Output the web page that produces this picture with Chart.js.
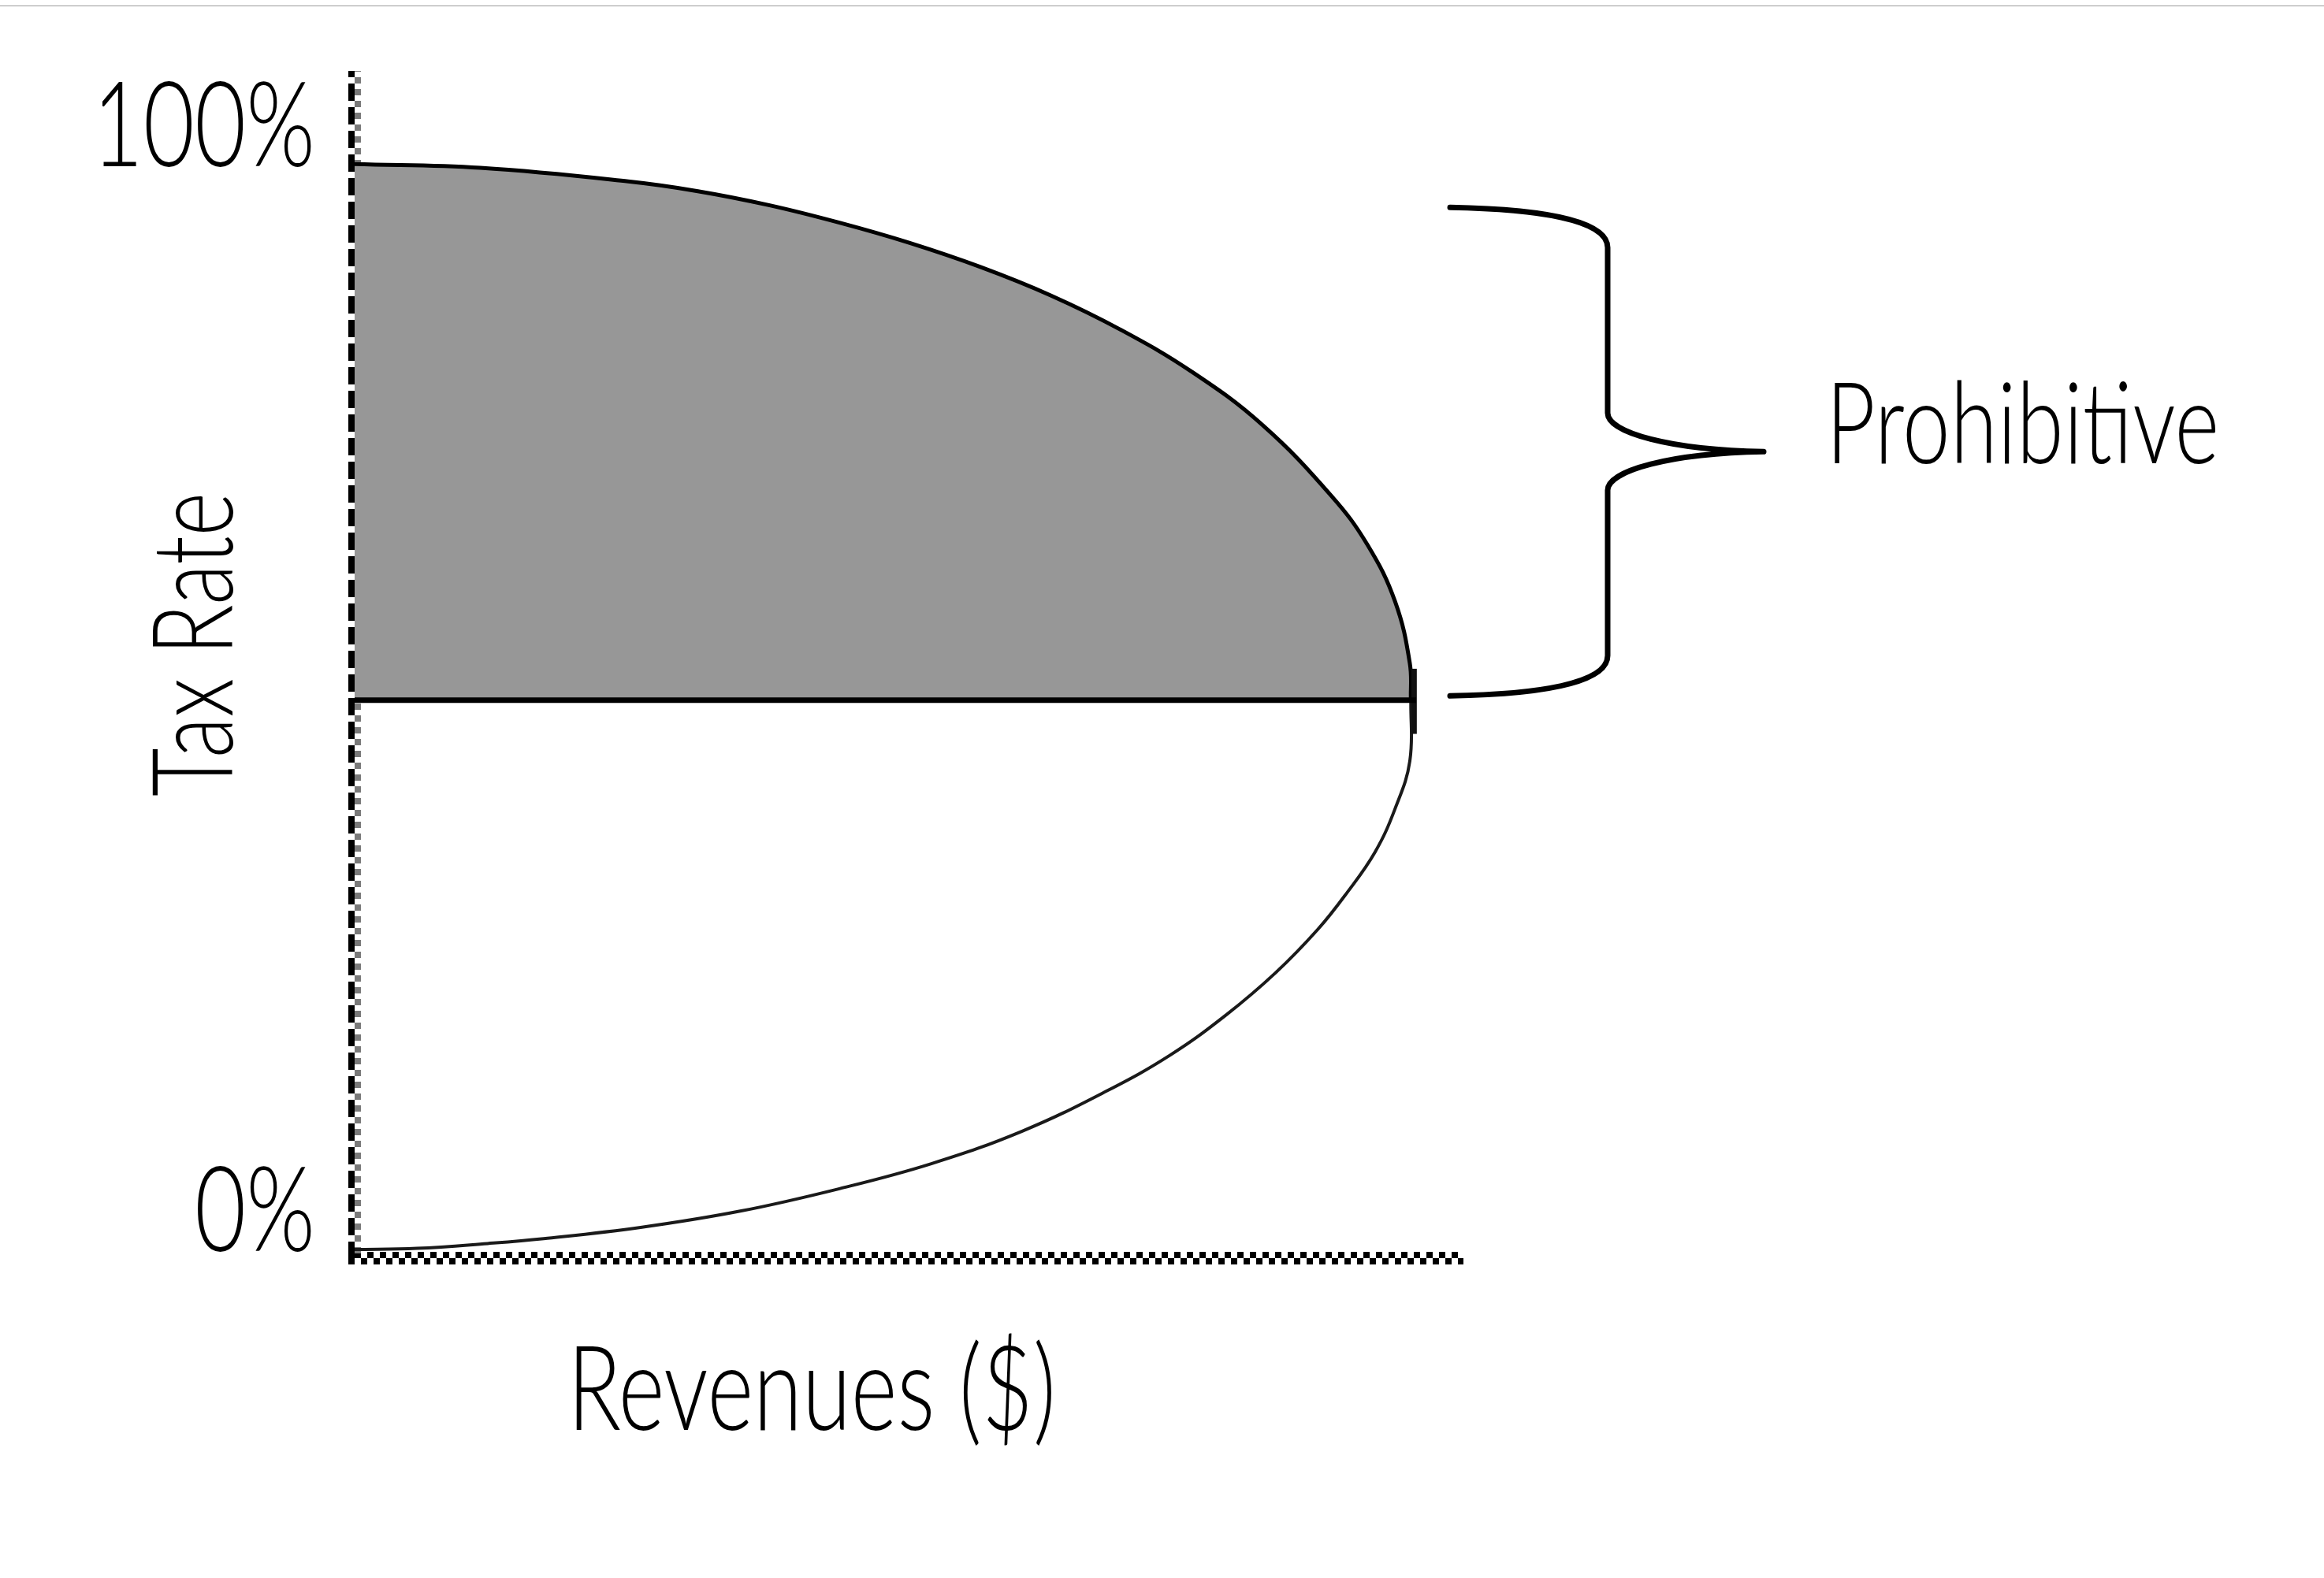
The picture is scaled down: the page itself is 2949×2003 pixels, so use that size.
<!DOCTYPE html>
<html>
<head>
<meta charset="utf-8">
<script src="https://cdn.jsdelivr.net/npm/chart.js@4.4.1/dist/chart.umd.min.js"></script>
<style>
  html, body { margin: 0; padding: 0; background: #ffffff; }
  #wrap { position: relative; width: 2949px; height: 2003px; overflow: hidden; background: #fff; }
  #topline { position: absolute; left: 0; top: 7px; width: 2949px; height: 1px; background: #9a9a9a; }
  #chart { position: absolute; left: 0; top: 0; }
</style>
</head>
<body>
<div id="wrap">
  <div id="topline"></div>
  <canvas id="chart" width="2949" height="2003"></canvas>
</div>
<script>
// ---------------- data ----------------
// upper branch of the Laffer curve (prohibitive range), ordered by revenue
const upperRevenue = [0, 11.9, 25.9, 32.5, 39.3, 45.9, 52.5, 59.3, 65.9, 72.5, 79.2, 85.9, 92.5, 95.9, 98.5, 99.9, 100];
const upperRate    = [100, 99.65, 98.4, 97.5, 96.2, 94.6, 92.75, 90.5, 87.9, 84.75, 80.9, 76.0, 69.4, 64.9, 59.7, 54.0, 50.6];
// lower branch (normal range), ordered by revenue
const lowerRevenue = [0, 5.9, 12.6, 17.9, 27.2, 36.6, 45.9, 54.6, 63.2, 71.2, 77.2, 82.5, 87.2, 91.2, 93.9, 96.6, 98.5, 99.9, 100];
const lowerRate    = [0, 0.1, 0.55, 1.0, 2.05, 3.55, 5.6, 7.9, 10.9, 14.6, 17.9, 21.6, 25.5, 29.5, 32.8, 36.6, 40.6, 45.0, 50.6];
// revenue-maximising rate (horizontal divider) and its end marker
const turningRate = 50.6;
const turningLineRevenue = [0, 100.5];
const tipMarkRevenue = 100.3;
const tipMarkRate = [47.5, 53.5];
// brace marking the prohibitive range (tax-rate values)
const braceRates = [51.0, 96.0];
const braceLabel = 'Prohibitive';
// axis
const yTickValues = [0, 100];
const yTickLabels = ['0%', '100%'];
const yTitle = 'Tax Rate';
const xTitle = 'Revenues ($)';

// ---------------- styling ----------------
const FONT_FAMILY = "Lato, 'DejaVu Sans', sans-serif";
const FONT_WEIGHT = '300';
const FONT_SIZE = 150;
const CONDENSE = 0.75;        // horizontal squeeze to mimic a condensed face
const FILL_GREY = '#979797';

const canvas = document.getElementById('chart');
const ctx = canvas.getContext('2d');
// draw all text horizontally condensed
const rawFillText = ctx.fillText.bind(ctx);
ctx.fillText = function (text, x, y) {
  this.save();
  this.translate(x, y);
  this.scale(CONDENSE, 1);
  rawFillText(text, 0, 0);
  this.restore();
};

// dotted / checkered axis patterns
function makeXPattern() {
  const c = document.createElement('canvas'); c.width = 16; c.height = 16;
  const g = c.getContext('2d');
  g.fillStyle = '#000';
  g.fillRect(0, 0, 8, 8); g.fillRect(8, 8, 8, 8);
  return ctx.createPattern(c, 'repeat');
}
function makeYPattern() {
  const c = document.createElement('canvas'); c.width = 16; c.height = 30;
  const g = c.getContext('2d');
  g.fillStyle = '#000';
  g.fillRect(0, 8, 8, 22);
  g.fillStyle = '#7a7a7a';
  g.fillRect(8, 0, 8, 8); g.fillRect(8, 15, 8, 8);
  return ctx.createPattern(c, 'repeat');
}
const xPattern = makeXPattern();
const yPattern = makeYPattern();

const toPoints = (xs, ys) => xs.map((v, i) => ({ x: v, y: ys[i] }));

const patternAlign = {
  id: 'patternAlign',
  beforeDraw(chart) {
    const a = chart.chartArea;
    xPattern.setTransform(new DOMMatrix().translate(a.left, a.bottom - 8));
    yPattern.setTransform(new DOMMatrix().translate(a.left - 8, a.top));
  }
};

const bracePlugin = {
  id: 'brace',
  afterDraw(chart) {
    const c = chart.ctx, ys = chart.scales.y, a = chart.chartArea;
    const yT = ys.getPixelForValue(braceRates[1]);
    const yB = ys.getPixelForValue(braceRates[0]);
    const yM = (yT + yB) / 2;
    const xL = a.right - 16;
    const xV = xL + 200;
    const xTip = xL + 398;
    const d = 51;
    c.save();
    c.strokeStyle = '#000';
    c.lineWidth = 7;
    c.lineCap = 'round';
    c.lineJoin = 'round';
    c.beginPath();
    c.moveTo(xL, yT);
    c.bezierCurveTo(xL + 110, yT + 2, xV, yT + 15, xV, yT + d);
    c.lineTo(xV, yM - 49);
    c.bezierCurveTo(xV, yM - 24, xV + 80, yM - 2, xTip, yM);
    c.bezierCurveTo(xV + 80, yM + 2, xV, yM + 24, xV, yM + 49);
    c.lineTo(xV, yB - d);
    c.bezierCurveTo(xV, yB - 15, xL + 110, yB - 2, xL, yB);
    c.stroke();
    c.fillStyle = '#000';
    c.font = FONT_WEIGHT + ' 145px ' + FONT_FAMILY;
    c.textAlign = 'left';
    c.textBaseline = 'alphabetic';
    c.fillText(braceLabel, xTip + 79, yM + 15);
    c.restore();
  }
};

const textFont = (lh, size) => ({ family: FONT_FAMILY, weight: FONT_WEIGHT, size: size || FONT_SIZE, lineHeight: lh });

new Chart(ctx, {
  type: 'scatter',
  data: {
    datasets: [
      {
        label: 'turning line',
        data: turningLineRevenue.map(r => ({ x: r, y: turningRate })),
        showLine: true, borderColor: '#000', borderWidth: 7, pointRadius: 0, fill: false, tension: 0
      },
      {
        label: 'tip mark',
        data: tipMarkRate.map(t => ({ x: tipMarkRevenue, y: t })),
        showLine: true, borderColor: '#111', borderWidth: 7, pointRadius: 0, fill: false, tension: 0
      },
      {
        label: 'prohibitive',
        data: toPoints(upperRevenue, upperRate),
        showLine: true, borderColor: '#000', borderWidth: 5, pointRadius: 0,
        tension: 0.4,
        fill: { value: turningRate }, backgroundColor: FILL_GREY
      },
      {
        label: 'normal',
        data: toPoints(lowerRevenue, lowerRate),
        showLine: true, borderColor: '#1a1a1a', borderWidth: 4, pointRadius: 0,
        tension: 0.4, fill: false
      }
    ]
  },
  options: {
    responsive: false,
    devicePixelRatio: 1,
    animation: false,
    events: [],
    layout: { padding: { left: 100, right: 989, top: 98, bottom: 0 } },
    plugins: {
      legend: { display: false },
      tooltip: { enabled: false },
      title: {
        display: true,
        text: xTitle,
        position: 'bottom',
        align: 'center',
        color: '#000',
        font: textFont(1),
        padding: { top: 95, bottom: 161 }
      }
    },
    scales: {
      x: {
        type: 'linear',
        min: 0, max: 104.9,
        grid: { display: false },
        ticks: { display: false },
        border: { display: true, color: xPattern, width: 16 },
        afterFit(s) { s.height = 0; }
      },
      y: {
        type: 'linear',
        position: 'left',
        weight: 0,
        min: -0.8, max: 108,
        grid: { display: false },
        border: { display: true, color: yPattern, width: 16 },
        afterBuildTicks(s) { s.ticks = yTickValues.map(v => ({ value: v })); },
        ticks: {
          color: '#000',
          font: textFont(0.4),
          padding: 42,
          labelOffset: -46,
          callback: (v) => yTickLabels[yTickValues.indexOf(v)]
        },
        afterFit(s) { s.width = 320; }
      },
      // outer left column carrying the axis title (upper part of a two-box stack)
      yTitleGap: {
        type: 'linear',
        position: 'left',
        weight: 1,
        stack: 'ylabel',
        stackWeight: 59,
        min: 0, max: 1,
        grid: { display: false },
        ticks: { display: false },
        border: { display: false },
        afterFit(s) { s.width = 30; }
      },
      yTitleAxis: {
        type: 'linear',
        position: 'left',
        weight: 2,
        stack: 'ylabel',
        stackWeight: 1440,
        min: 0, max: 1,
        grid: { display: false },
        ticks: { display: false },
        border: { display: false },
        title: {
          display: true,
          text: yTitle,
          color: '#000',
          font: textFont(0.45, 142),
          padding: { top: 117, bottom: 0 }
        },
        afterFit(s) { s.width = 30; }
      },
      yRightSpace: {
        type: 'linear',
        position: 'right',
        min: 0, max: 1,
        grid: { display: false },
        ticks: { display: false },
        border: { display: false },
        title: { display: false },
        afterFit(s) { s.width = 104; }
      }
    }
  },
  plugins: [patternAlign, bracePlugin]
});
</script>
</body>
</html>
